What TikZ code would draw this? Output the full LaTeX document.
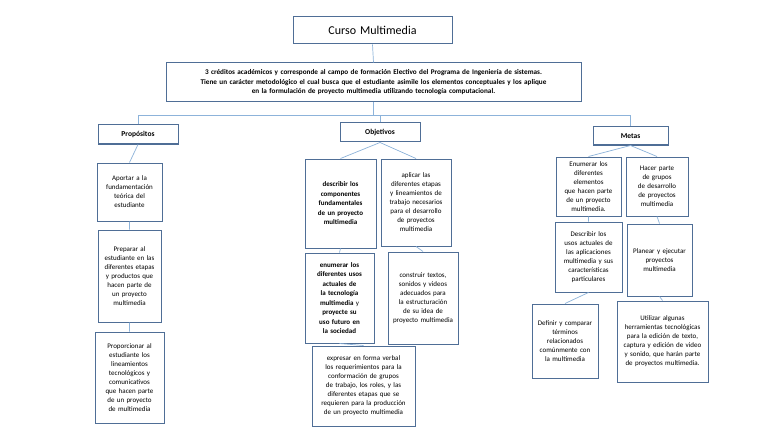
\documentclass[tikz,border=0pt]{standalone}
\usepackage{fontspec}
\setmainfont{Carlito}
\hyphenpenalty=10000
\exhyphenpenalty=10000
\begin{document}
\begin{tikzpicture}[x=1pt,y=-1pt,
  bx/.style={draw=boxc,line width=1pt,fill=white,align=center,inner sep=1pt,font=\fontsize{7}{9}\selectfont},
  ln/.style={draw=linec,line width=0.7pt}]
\definecolor{boxc}{HTML}{4F6E96}
\definecolor{linec}{HTML}{8DB3DA}
\useasboundingbox (0,0) rectangle (768,433);
\fill[white] (0,0) rectangle (768,433);
\newcommand{\bxat}[7]{\node[bx,minimum width=#3-#1,minimum height=#4-#2,text width=#3-#1-8,#6] (#5) at ({(#1+#3)/2},{(#2+#4)/2}) {#7};}
\bxat{293}{17}{452}{44}{title}{font=\fontsize{12}{14}\selectfont}{Curso Multimedia}
\bxat{166}{63}{581}{102}{desc}{text width=412,font=\fontsize{7.2}{9.5}\selectfont\bfseries}{3 créditos académicos y corresponde al campo de formación Electivo del Programa de Ingeniería de sistemas.\\ Tiene un carácter metodológico el cual busca que el estudiante asimile los elementos conceptuales y los aplique\\ en la formulación de proyecto multimedia utilizando tecnología computacional.}
\bxat{98}{125}{178}{144}{prop}{font=\fontsize{7.5}{8}\selectfont\bfseries}{Propósitos}
\bxat{340}{123}{420}{142}{obj}{font=\fontsize{7.5}{8}\selectfont\bfseries}{Objetivos}
\bxat{593}{127}{668}{145}{met}{font=\fontsize{7.5}{8}\selectfont\bfseries}{Metas}
\bxat{97}{163}{162}{221}{p1}{}{Aportar a la fundamentación teórica del estudiante}
\bxat{98}{230}{161}{322}{p2}{}{Preparar al estudiante en las diferentes etapas y productos que hacen parte de un proyecto multimedia}
\bxat{95}{332}{164}{423}{p3}{}{Proporcionar al estudiante los lineamientos tecnológicos y comunicativos que hacen parte de un proyecto de multimedia}
\bxat{305}{159}{376}{248}{o1}{font=\fontsize{7}{9.5}\selectfont\bfseries}{describir los componentes fundamentales de un proyecto multimedia}
\bxat{381}{159}{451}{246}{o2}{}{aplicar las diferentes etapas y lineamientos de trabajo necesarios para el desarrollo de proyectos multimedia}
\bxat{305}{253}{374}{343}{o3}{font=\fontsize{7}{9.5}\selectfont\bfseries}{enumerar los diferentes usos actuales de la tecnología multimedia {\mdseries y} proyecte su uso futuro en la sociedad}
\bxat{388}{252}{458}{344}{o4}{}{construir textos, sonidos y videos adecuados para la estructuración de su idea de proyecto multimedia}
\bxat{312}{346}{415}{426}{o5}{}{expresar en forma verbal los requerimientos para la conformación de grupos de trabajo, los roles, y las diferentes etapas que se requieren para la producción de un proyecto multimedia}
\bxat{556}{157}{621}{216}{m1}{}{Enumerar los diferentes elementos que hacen parte de un proyecto multimedia.}
\bxat{626}{157}{688}{216}{m2}{}{Hacer parte de grupos de desarrollo de proyectos multimedia}
\bxat{555}{222}{622}{292}{m3}{}{Describir los usos actuales de las aplicaciones multimedia y sus características particulares}
\bxat{627}{224}{692}{296}{m4}{}{Planear y ejecutar proyectos multimedia}
\bxat{532}{304}{598}{378}{m5}{}{Definir y comparar términos relacionados comúnmente con la multimedia}
\bxat{617}{301}{708}{382}{m6}{}{Utilizar algunas herramientas tecnológicas para la edición de texto, captura y edición de video y sonido, que harán parte de proyectos multimedia.}
\path[ln] (title.south) -- (desc.north);
\coordinate (hl) at (prop.north |- 0,115);
\coordinate (hr) at (met.north |- 0,115);
\path[ln] (desc.south) -- (desc.south |- hl);
\path[ln] (prop.north) -- (hl) -- (hr) -- (met.north);
\path[ln] (obj.north) -- (obj.north |- hl);
\path[ln] (prop.south) -- (p1.north) (p1.south) -- (p2.north) (p2.south) -- (p3.north);
\path[ln] (obj.south) -- (o1.north) (obj.south) -- (o2.north);
\path[ln] (o1.south) -- (o3.north) (o3.south) -- (o5.north) (o2.south) -- (o4.north);
\path[ln] (met.south) -- (m1.north) (met.south) -- (m2.north);
\path[ln] (m1.south) -- (m3.north) (m3.south) -- (m5.north) (m2.south) -- (m4.north) (m4.south) -- (m6.north);
\end{tikzpicture}
\end{document}
